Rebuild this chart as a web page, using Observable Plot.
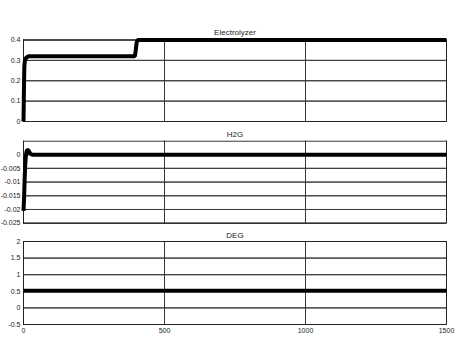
<!DOCTYPE html>
<html>
<head>
<meta charset="utf-8">
<script src="https://cdn.jsdelivr.net/npm/d3@7"></script>
<script src="https://cdn.jsdelivr.net/npm/@observablehq/plot@0.6"></script>
<style>
  html, body { margin: 0; padding: 0; background: #fff; }
  #wrap { position: relative; width: 474px; height: 355px; font-family: "Liberation Sans", Arial, sans-serif; }
  #wrap > div { position: absolute; left: 0; }
  svg { overflow: visible; }
</style>
</head>
<body>
<div id="wrap">
  <div id="p1" style="top:0px"></div>
  <div id="p2" style="top:125px"></div>
  <div id="p3" style="top:225px"></div>
</div>
<script>
// Time axis (s)
const xDomain = [0, 1500];
const xTicks = [0, 500, 1000, 1500];

// Electrolyzer power
const elecT = [0, 1, 2, 3, 5, 8, 12, 18, 395, 398, 401, 404, 1500];
const elecV = [0, 0.10, 0.20, 0.27, 0.30, 0.31, 0.315, 0.32, 0.32, 0.35, 0.385, 0.40, 0.40];
const elecTicks = [0, 0.1, 0.2, 0.3, 0.4];

// H2G power
const h2gT = [0, 2, 4, 6, 8, 10, 13, 17, 21, 25, 30, 35, 1500];
const h2gV = [-0.0205, -0.016, -0.009, -0.004, -0.001, 0.0008, 0.0017, 0.0016, 0.0009, 0.0003, 0.0, 0.0, 0.0];
const h2gTicks = [-0.025, -0.02, -0.015, -0.01, -0.005, 0];

// DEG power
const degT = [0, 1500];
const degV = [0.52, 0.52];
const degTicks = [-0.5, 0, 0.5, 1, 1.5, 2];

const W = 474, ML = 23, MR = 28;

function panel({t, v, title, yDomain, yTicks, height, mt, mb, titleY, showX}) {
  const data = t.map((d, i) => ({t: d, v: v[i]}));
  const span = yDomain[1] - yDomain[0];
  return Plot.plot({
    width: W,
    height,
    marginLeft: ML,
    marginRight: MR,
    marginTop: mt,
    marginBottom: mb,
    style: {fontFamily: "Liberation Sans, Arial, sans-serif", fontSize: "7px", color: "#222", background: "transparent"},
    x: {domain: xDomain, label: null, axis: null},
    y: {domain: yDomain, label: null, axis: null},
    marks: [
      Plot.gridY(yTicks, {stroke: "#999", strokeOpacity: 1, strokeWidth: 0.8}),
      Plot.gridX([500, 1000], {stroke: "#999", strokeOpacity: 1, strokeWidth: 0.8}),
      Plot.axisY(yTicks, {anchor: "left", tickSize: 0, tickPadding: 3, tickFormat: d => String(d), fontSize: 7, fill: "#222", label: null}),
      Plot.tickY(yTicks, {y: d => d, stroke: "#333", strokeWidth: 0.8, x1: 0, x2: 7}),
      Plot.tickY(yTicks, {y: d => d, stroke: "#333", strokeWidth: 0.8, x1: 1493, x2: 1500}),
      Plot.tickX(xTicks, {x: d => d, stroke: "#333", strokeWidth: 0.8, y1: yDomain[0], y2: yDomain[0] + span * 0.03}),
      Plot.tickX(xTicks, {x: d => d, stroke: "#333", strokeWidth: 0.8, y1: yDomain[1], y2: yDomain[1] - span * 0.03}),
      showX
        ? Plot.axisX(xTicks, {anchor: "bottom", tickSize: 0, tickPadding: 4, tickFormat: d => String(d), fontSize: 7, fill: "#222", label: null})
        : null,
      Plot.frame({stroke: "#222", strokeWidth: 0.9}),
      Plot.line(data, {x: "t", y: "v", stroke: "#000", strokeWidth: 4, strokeLinejoin: "miter", strokeLinecap: "butt"}),
      Plot.text([title], {frameAnchor: "top", dy: titleY - mt, text: d => d, fontSize: 8, fill: "#222", lineAnchor: "middle"})
    ]
  });
}

document.getElementById("p1").append(panel({
  t: elecT, v: elecV, title: "Electrolyzer", yDomain: [0, 0.4], yTicks: elecTicks,
  height: 125, mt: 39.5, mb: 4, titleY: 31.5, showX: false
}));
document.getElementById("p2").append(panel({
  t: h2gT, v: h2gV, title: "H2G", yDomain: [-0.025, 0.0049], yTicks: h2gTicks,
  height: 100, mt: 15.7, mb: 2.3, titleY: 8.5, showX: false
}));
document.getElementById("p3").append(panel({
  t: degT, v: degV, title: "DEG", yDomain: [-0.5, 2], yTicks: degTicks,
  height: 130, mt: 16, mb: 31, titleY: 9.5, showX: true
}));
</script>
</body>
</html>
